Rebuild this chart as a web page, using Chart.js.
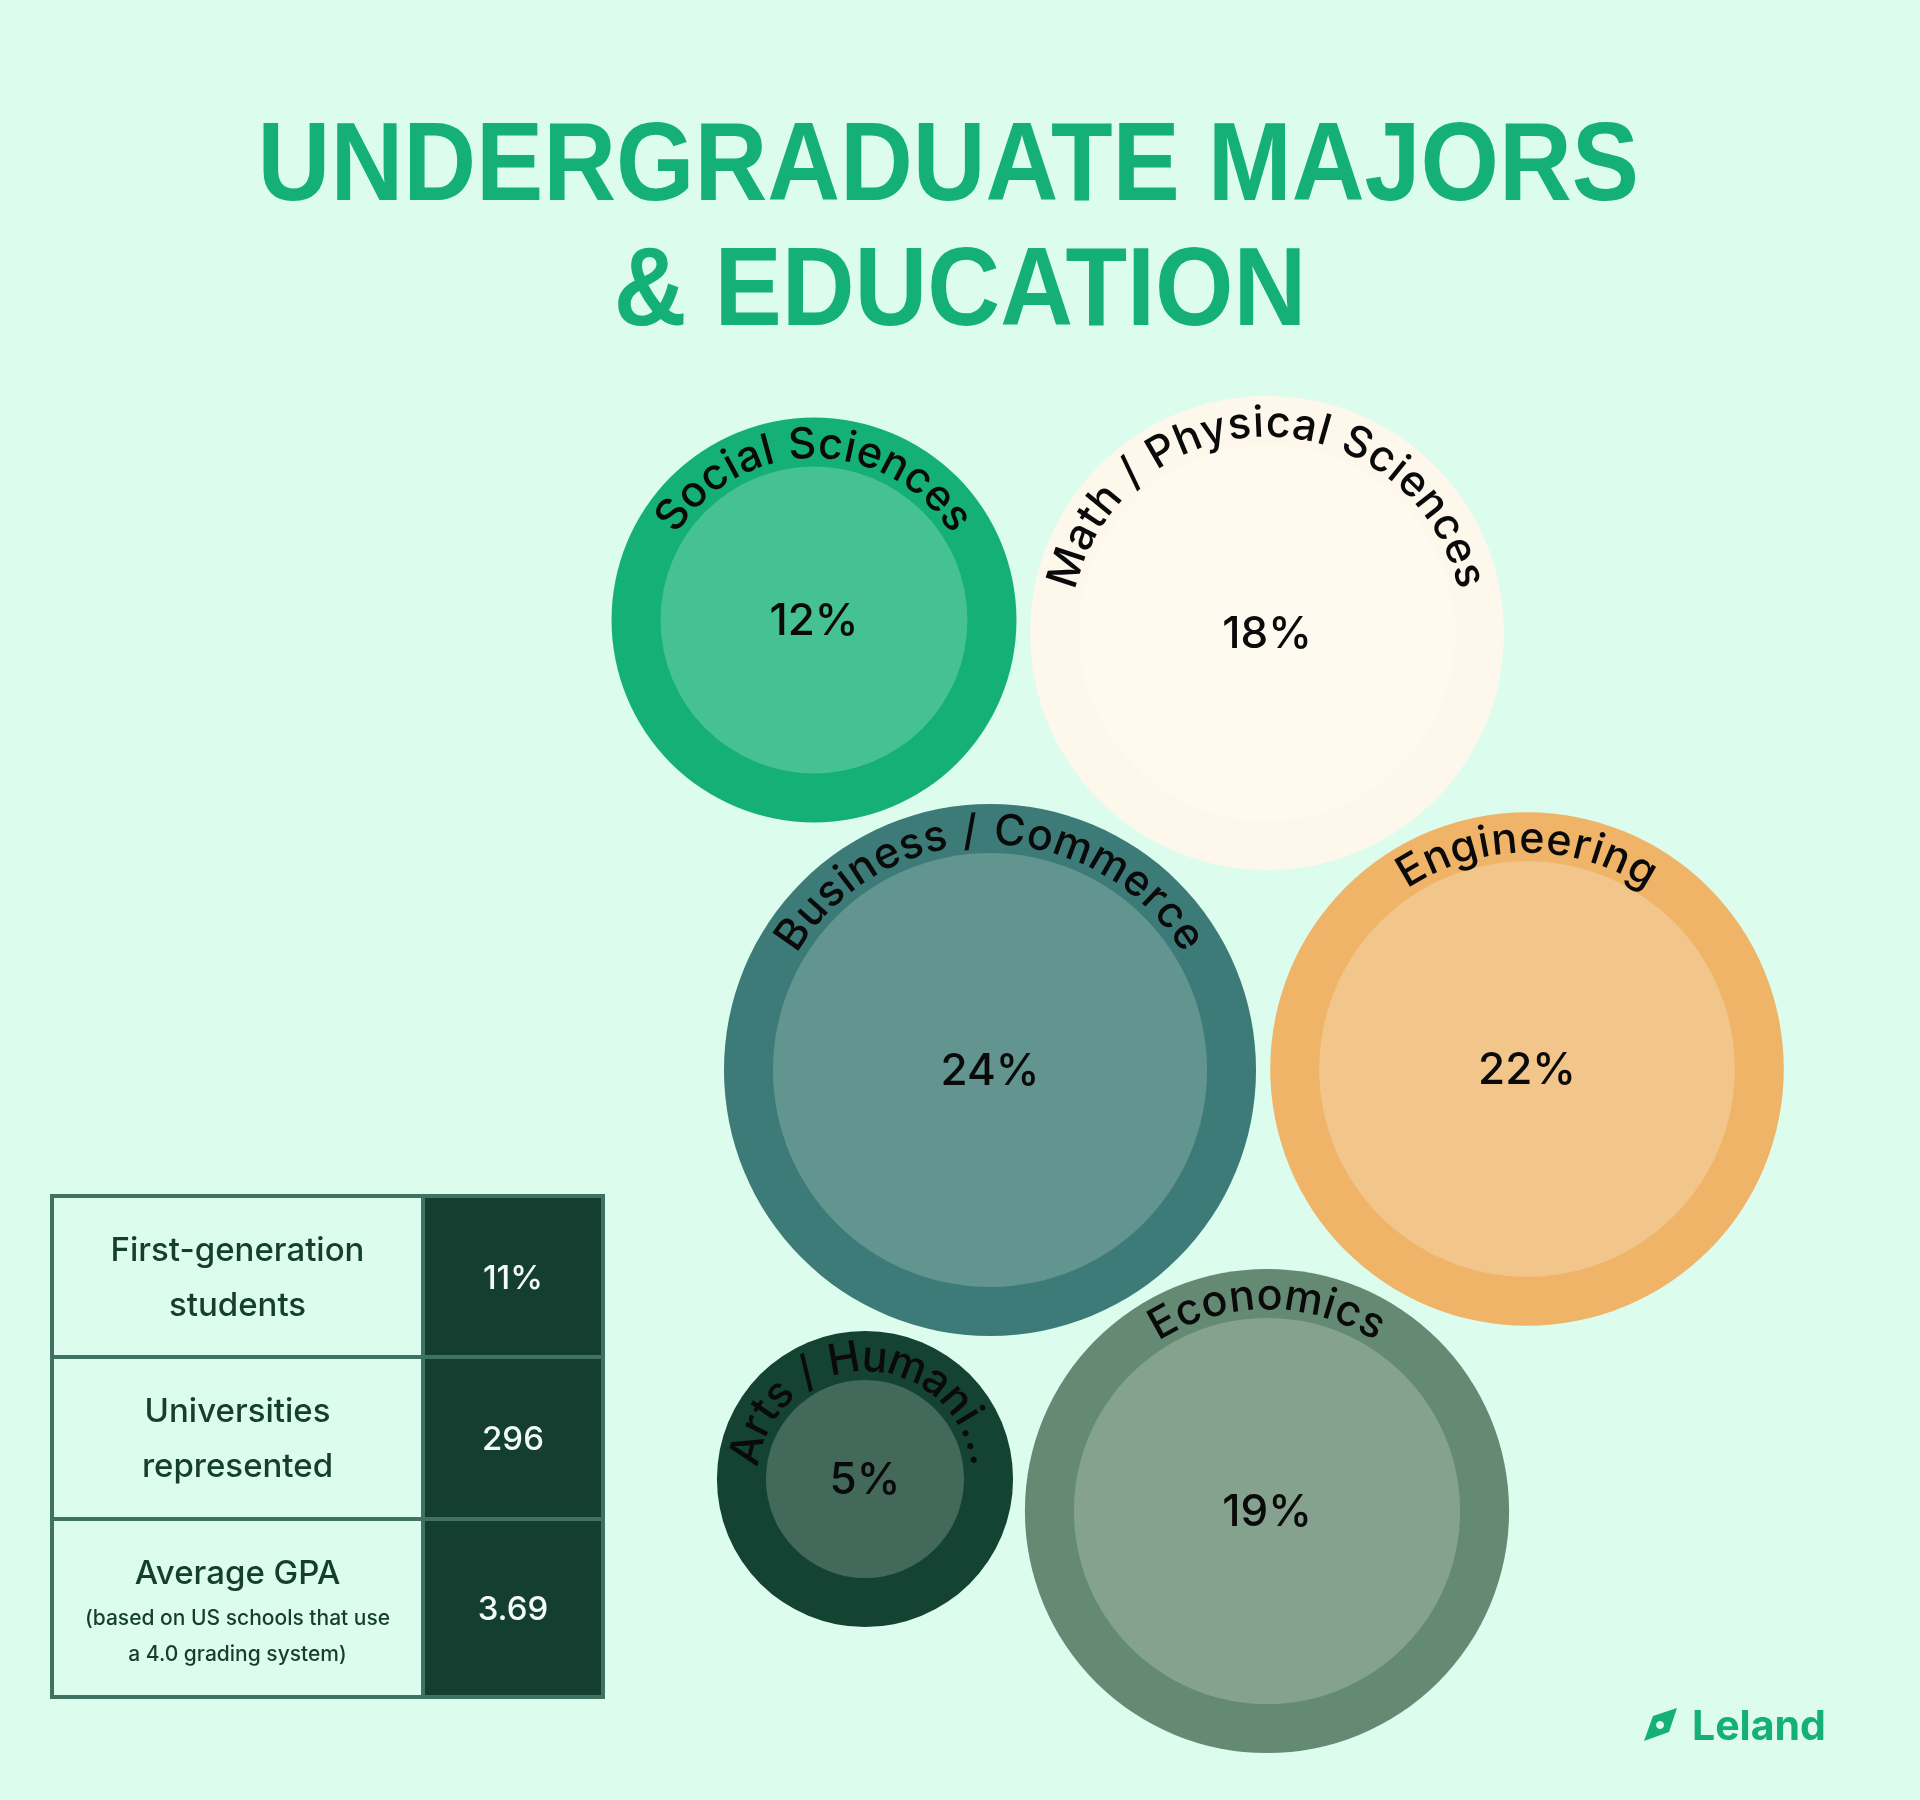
<!DOCTYPE html>
<html>
<head>
<meta charset="utf-8">
<script src="https://cdn.jsdelivr.net/npm/chart.js@4.4.1/dist/chart.umd.min.js"></script>
<style>
body { margin: 0; background: #dcfcee; }
#page { position: relative; width: 1920px; height: 1800px; overflow: hidden; font-family: Inter, sans-serif; }
#bubbles { position: absolute; left: 0; top: 0; }
.title { position: absolute; left: 0; top: 99px; width: 1920px; text-align: center; font: bold 112px 'Liberation Sans', sans-serif; line-height: 125px; color: #14b078; transform: scaleX(0.9); transform-origin: 960px 0; }
.title span { position: relative; display: inline-block; }
table.stats { position: absolute; left: 50px; top: 1194px; width: 555px; border-collapse: collapse; border: 4px solid #3f7262; }
table.stats td { border: 4px solid #3f7262; text-align: center; padding: 0; }
table.stats td.lbl { width: 367px; color: #143f30; font-size: 33px; font-weight: 500; line-height: 55px; }
table.stats td.val { background: #143f30; color: #f2fbf6; font-size: 33px; font-weight: 500; }
table.stats .note { display: block; font-size: 21px; line-height: 36px; }
.logo { position: absolute; left: 1643px; top: 1700px; color: #14b078; font: bold 41px Inter, sans-serif; display: flex; align-items: center; }
.logo svg { margin-right: 13px; }
</style>
</head>
<body>
<div id="page">
  <canvas id="bubbles" width="1920" height="1800"></canvas>
  <div class="title"><span style="left:-13px">UNDERGRADUATE MAJORS</span><br><span>&amp; EDUCATION</span></div>
  <table class="stats" id="stats"></table>
  <div class="logo">
    <svg width="36" height="36" viewBox="0 0 36 36"><path d="M34 1 L10 9 L1 34 L26 25 Z M17 14 a4 4 0 1 0 0.1 0 Z" fill="#14b078" fill-rule="evenodd"/></svg>
    <span>Leland</span>
  </div>
</div>
<script>
// Majors and their share of students
const majors = ['Social Sciences', 'Math / Physical Sciences', 'Business / Commerce', 'Engineering', 'Economics', 'Arts / Humanities'];
const shares = [12, 18, 24, 22, 19, 5];

// Bubble centres of the packed layout (page units)
const layoutX = [814, 1267, 990, 1527, 1267, 865];
const layoutY = [620, 633, 1070, 1069, 1511, 1479];

const ringColors = ['#14b075', '#fdf8eb', '#3c7b77', '#efb467', '#648a74', '#144233'];
const fillColors = ['#46c193', '#fffaef', '#62958f', '#f2c68a', '#84a28e', '#42695a'];

// Side table
const statLabels = ['First-generation<br>students', 'Universities<br>represented', 'Average GPA<span class="note">(based on US schools that use<br>a 4.0 grading system)</span>'];
const statValues = ['11%', '296', '3.69'];
const rowHeights = [161, 162, 178];

const RING = 49;
const innerRadius = v => 44.3 * Math.sqrt(v);

// Build table
const stats = document.getElementById('stats');
statLabels.forEach((l, i) => {
    const tr = document.createElement('tr');
    tr.style.height = rowHeights[i] + 'px';
    tr.innerHTML = '<td class="lbl">' + l + '</td><td class="val">' + statValues[i] + '</td>';
    stats.appendChild(tr);
});

// Curved labels + percentages
const LABEL_FONT = '500 43px Inter';
const SPACING = 2.5;
const MAX_ARC = 168 * Math.PI / 180;

function arcWidth(ctx, text) {
    let w = 0;
    for (const ch of text) w += ctx.measureText(ch).width + SPACING;
    return w - SPACING;
}

function fitArc(ctx, text, r) {
    if (arcWidth(ctx, text) / r <= MAX_ARC) return text;
    let t = text;
    while (t.length > 1 && arcWidth(ctx, t + '...') / r > MAX_ARC) t = t.slice(0, -1);
    return t.trimEnd() + '...';
}

const arcLabels = {
    id: 'arcLabels',
    afterDatasetsDraw(chart) {
        const ctx = chart.ctx;
        const meta = chart.getDatasetMeta(1);
        meta.data.forEach((pt, i) => {
            const x = pt.x, y = pt.y;
            const mid = innerRadius(shares[i]) + RING / 2;
            ctx.save();
            ctx.fillStyle = '#0a0a0a';

            ctx.font = '500 44px Inter';
            ctx.textAlign = 'center';
            ctx.textBaseline = 'middle';
            ctx.fillText(shares[i] + '%', x, y + 2);

            ctx.font = LABEL_FONT;
            ctx.textBaseline = 'alphabetic';
            const text = fitArc(ctx, majors[i], mid);
            const total = arcWidth(ctx, text);
            let acc = 0;
            const start = -Math.PI / 2 - (total / mid) / 2;
            for (const ch of text) {
                const w = ctx.measureText(ch).width;
                const a = start + (acc + w / 2) / mid;
                ctx.save();
                ctx.translate(x, y);
                ctx.rotate(a + Math.PI / 2);
                ctx.fillText(ch, 0, -(mid - 16));
                ctx.restore();
                acc += w + SPACING;
            }
            ctx.restore();
        });
    }
};

const points = shares.map((v, i) => ({ x: layoutX[i], y: layoutY[i], v: v }));

const ctx = document.getElementById('bubbles').getContext('2d');
const chart = new Chart(ctx, {
    type: 'bubble',
    data: {
        labels: majors,
        datasets: [
            {
                label: 'core',
                data: points.map(p => ({ x: p.x, y: p.y, r: innerRadius(p.v) })),
                backgroundColor: fillColors,
                borderWidth: 0,
                clip: false
            },
            {
                label: 'ring',
                data: points.map(p => ({ x: p.x, y: p.y, r: innerRadius(p.v) + RING })),
                backgroundColor: ringColors,
                borderWidth: 0,
                clip: false
            }
        ]
    },
    options: {
        responsive: false,
        animation: false,
        devicePixelRatio: 1,
        layout: { padding: 0, autoPadding: false },
        scales: {
            x: { type: 'linear', min: 0, max: 1920, display: false },
            y: { type: 'linear', min: 0, max: 1800, reverse: true, display: false }
        },
        plugins: {
            legend: { display: false },
            tooltip: { enabled: false }
        }
    },
    plugins: [arcLabels]
});
</script>
</body>
</html>
